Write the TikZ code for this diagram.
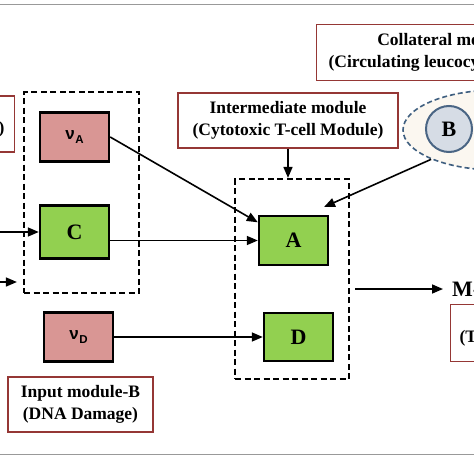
\documentclass[tikz,border=0pt]{standalone}
\usepackage{fontspec}
\setmainfont{Liberation Serif}
\newfontfamily\sansgr{Liberation Sans}
\usetikzlibrary{arrows.meta,shapes.geometric}

\definecolor{rateC}{HTML}{D99694}
\definecolor{specC}{HTML}{92D050}
\definecolor{modC}{HTML}{953735}
\definecolor{cellC}{HTML}{D6DCE5}
\definecolor{cellD}{HTML}{4A6584}
\definecolor{ringC}{HTML}{3F5F80}
\definecolor{ringF}{HTML}{FBF7F0}

\newcommand{\ratelab}[1]{{\fontsize{17}{20}\selectfont ν}\kern0.5pt%
  \raisebox{-3.5pt}{\fontsize{11.5}{14}\selectfont #1}}

\tikzset{
  species/.style={draw=black, line width=2.4pt, fill=specC, minimum width=69pt,
    minimum height=49pt, inner sep=0pt, font=\fontsize{22}{24}\selectfont\bfseries},
  rate/.style={species, fill=rateC, font=\sansgr\bfseries},
  modbox/.style={draw=modC, line width=1.3pt, fill=white, align=center, inner sep=0pt,
    font=\fontsize{17.5}{22}\selectfont\bfseries},
  module/.style={draw, line width=2.2pt, dash pattern=on 6pt off 3.5pt, inner sep=0pt},
  flow/.style={line width=1.6pt, -{Triangle[length=11pt,width=9pt]}},
}

\begin{document}
\begin{tikzpicture}[x=1pt,y=-1pt]
      \useasboundingbox (0,0) rectangle (474,474);
      \clip (0,0) rectangle (474,474);
      \draw [color=gray!80, line width=0.8pt] (0,4) -- (474,4);
      \draw [color=gray!80, line width=0.8pt] (0,454) -- (474,454);

      \node [module, minimum width=115pt, minimum height=201pt] (mod1) at (81.5,192.5) {};
      \node [module, minimum width=114pt, minimum height=200pt] (mod2) at (292,279) {};

      \node [rate] (va) at (74.5,137) {\ratelab{A}};
      \node [species, minimum height=53pt] (c) at (74.5,232) {C};
      \node [rate] (vd) at (78.5,337) {\ratelab{D}};
      \node [species] (a) at (293.5,240.5) {A};
      \node [species, minimum height=48pt] (d) at (298.5,337) {D};

      \node [modbox, anchor=east, text width=40pt, minimum height=56pt, align=right,
        inner xsep=10pt] (inabox) at (15,124) {\mbox{}\\)};
      \node [modbox, minimum width=145pt, minimum height=55pt] (inbbox) at (80.5,404.5)
        {Input module-B\\(DNA Damage)};
      \node [modbox, minimum width=220pt, minimum height=55pt] (intbox) at (288,120.5)
        {Intermediate module\\(Cytotoxic T-cell Module)};
      \node [modbox, anchor=north west, minimum width=256pt, minimum height=56pt] (colbox)
        at (316,24) {Collateral module\\(Circulating leucocyte Module)};

      \node [ellipse, draw=ringC, line width=1.6pt, dash pattern=on 5pt off 3pt, fill=ringF,
        minimum width=188pt, minimum height=80pt] (coll) at (497,130) {};
      \node [circle, draw=cellD, line width=2pt, fill=cellC, minimum size=46pt, inner sep=0pt,
        font=\fontsize{22}{24}\selectfont\bfseries] (b) at (449,129) {B};

      \node [anchor=west, inner sep=0pt, font=\fontsize{22}{24}\selectfont\bfseries] (out)
        at (452,289) {M-};
      \node [modbox, anchor=north west, text width=62pt, minimum height=57pt, align=left,
        inner xsep=9pt] (outbox) at (450,304) {\mbox{}\\(T};

      \coordinate (cin) at (0,232);
      \coordinate (modin) at (0,282);
      \coordinate (bin) at (324,207);

      \draw [flow] (cin) -- (c);
      \draw [flow, shorten >=6pt] (modin) -- (modin -| mod1.west);
      \draw [flow] (va.east) -- (a.153);
      \draw [flow] (c.east |- a.west) -- (a.west);
      \draw [flow] (vd) -- (d);
      \draw [flow] (intbox.south) -- (intbox.south |- mod2.north);
      \draw [flow] (coll) -- (bin);
      \draw [flow, shorten <=5pt, shorten >=9pt] (mod2.east |- out.west) -- (out.west);
\end{tikzpicture}
\end{document}
